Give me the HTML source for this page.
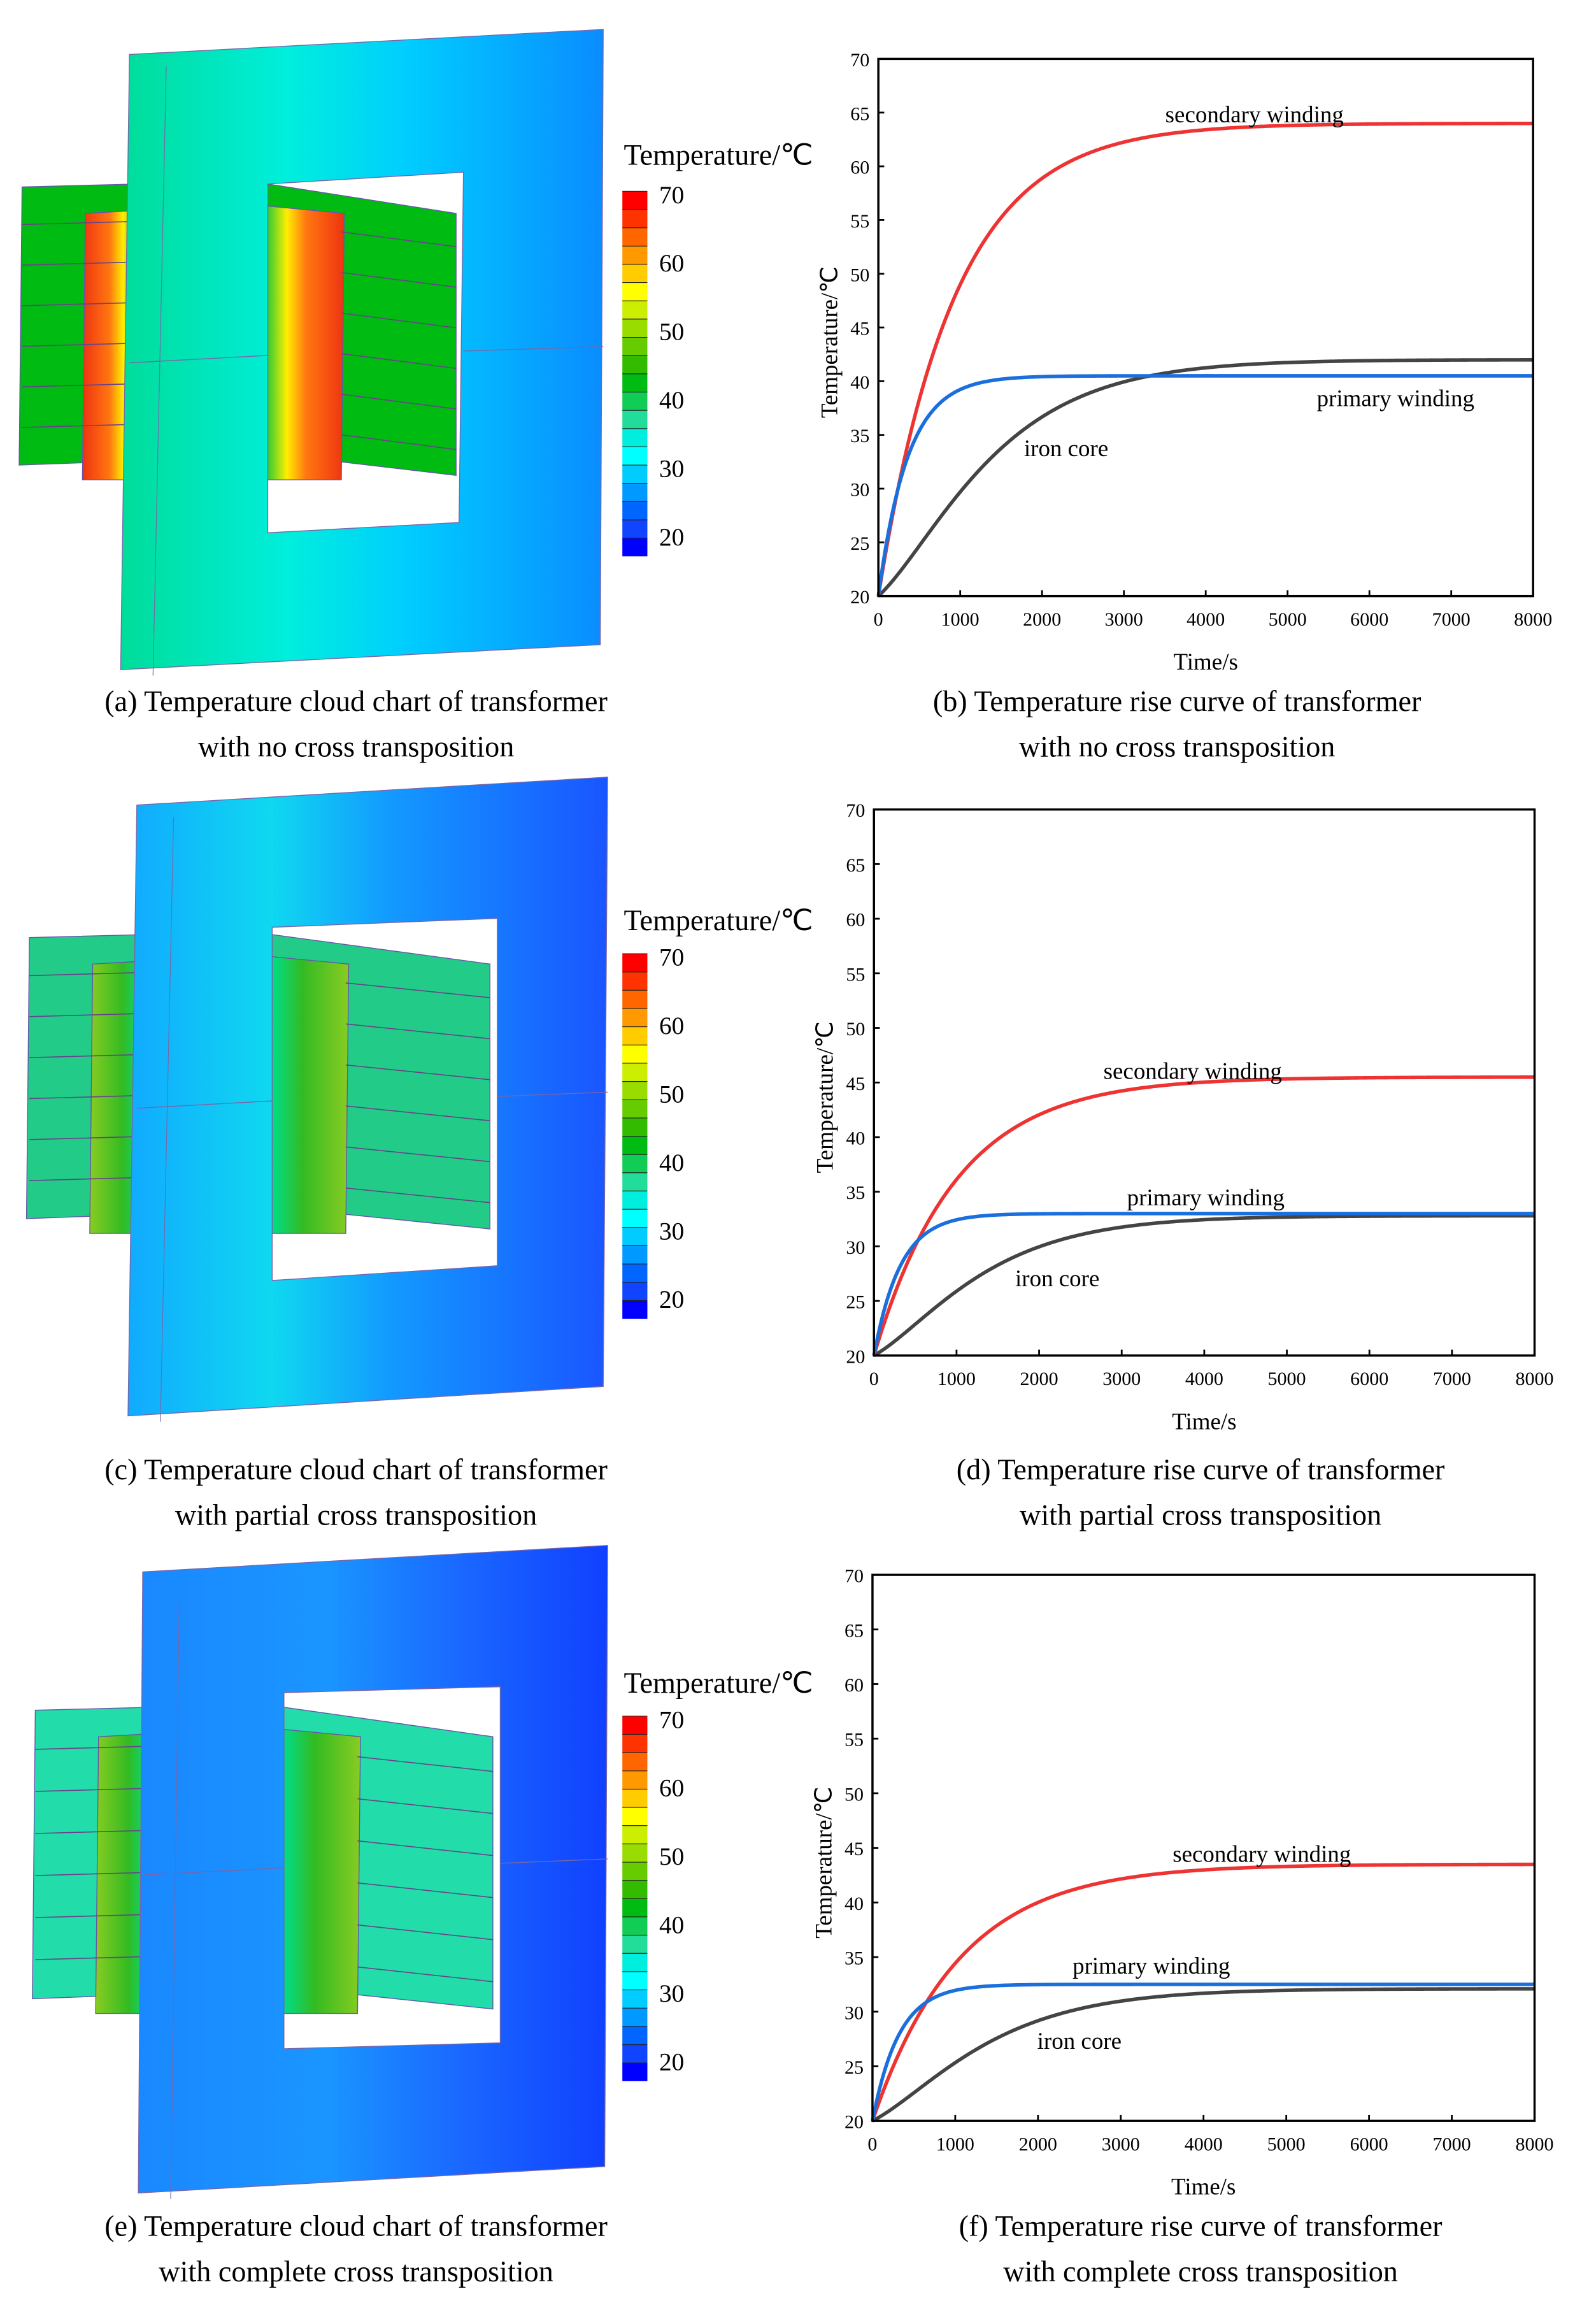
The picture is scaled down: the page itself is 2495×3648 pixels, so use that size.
<!DOCTYPE html>
<html><head><meta charset="utf-8"><style>
html,body{margin:0;padding:0;background:#fff}
svg{display:block}
text{font-family:"Liberation Serif",serif;fill:#000}
</style></head><body>
<svg id="s" width="2495" height="3648" viewBox="0 0 1080 1579" preserveAspectRatio="none" xmlns="http://www.w3.org/2000/svg">
<defs>
<linearGradient id="ga" x1="0" x2="1" y1="0" y2="0"><stop offset="0" stop-color="#00dd99"/><stop offset="0.35" stop-color="#00eedd"/><stop offset="0.6" stop-color="#00ccff"/><stop offset="1" stop-color="#0a8cff"/></linearGradient>
<linearGradient id="gc" x1="0" x2="1" y1="0" y2="0"><stop offset="0" stop-color="#11aaff"/><stop offset="0.3" stop-color="#0fd8f0"/><stop offset="0.55" stop-color="#1399ff"/><stop offset="1" stop-color="#1a55ff"/></linearGradient>
<linearGradient id="ge" x1="0" x2="1" y1="0" y2="0"><stop offset="0" stop-color="#1a88ff"/><stop offset="0.4" stop-color="#1a95ff"/><stop offset="0.7" stop-color="#1a66ff"/><stop offset="1" stop-color="#1040ff"/></linearGradient>
<linearGradient id="hot" x1="0" x2="1"><stop offset="0" stop-color="#ee3311"/><stop offset="0.5" stop-color="#ff7711"/><stop offset="0.75" stop-color="#ffee00"/><stop offset="1" stop-color="#33cc33"/></linearGradient>
<linearGradient id="hot2" x1="1" x2="0"><stop offset="0" stop-color="#ee3311"/><stop offset="0.5" stop-color="#ff7711"/><stop offset="0.75" stop-color="#ffee00"/><stop offset="1" stop-color="#33cc33"/></linearGradient>
<linearGradient id="mid" x1="0" x2="1"><stop offset="0" stop-color="#88cc22"/><stop offset="0.6" stop-color="#33bb22"/><stop offset="1" stop-color="#00dd88"/></linearGradient>
<linearGradient id="mid2" x1="1" x2="0"><stop offset="0" stop-color="#88cc22"/><stop offset="0.6" stop-color="#33bb22"/><stop offset="1" stop-color="#00dd88"/></linearGradient>
</defs>
<g id="g"></g>
</svg>
<script>
var g=document.getElementById('g'),h='';
function P(pts,f,st){return '<polygon points="'+pts+'" fill="'+f+'" stroke="'+(st||'#6655aa')+'" stroke-width="0.6"/>';}
function T(x,y,s,sz,anc,extra){return '<text x="'+x+'" y="'+y+'" font-size="'+sz+'"'+(anc?' text-anchor="'+anc+'"':'')+(extra||'')+'>'+s+'</text>';}
var panels=[
 {core:'url(#ga)',outer:[[88,37],[410,20],[408,438],[82,455]],win:[[182,125],[315,117],[312,355],[182,362]],coilY:[125,318],cL:'#00bb11',hotL:'url(#hot)',hotR:'url(#hot2)',cR:'#00bb11',cb:130,tl:112},
 {core:'url(#gc)',outer:[[93,547],[413,528],[410,942],[87,962]],win:[[185,630],[338,624],[338,860],[185,870]],coilY:[635,830],cL:'#22cc88',hotL:'url(#mid)',hotR:'url(#mid2)',cR:'#22cc88',cb:648,tl:632},
 {core:'url(#ge)',outer:[[97,1068],[413,1050],[411,1472],[94,1490]],win:[[193,1150],[340,1146],[340,1388],[193,1392]],coilY:[1160,1360],cL:'#22ddaa',hotL:'url(#mid)',hotR:'url(#mid2)',cR:'#22ddaa',cb:1166,tl:1150}
];
var cols=['#ff0000','#ff3300','#ff6600','#ff9900','#ffcc00','#ffff00','#ccee00','#99dd00','#66cc00','#33bb00','#00bb11','#11cc55','#22dd99','#00eedd','#00ffff','#00ccff','#0099ff','#0066ff','#1144ff','#0000ff'];
panels.forEach(function(p){
 var y0=p.coilY[0],y1=p.coilY[1];
 var o=p.outer,w=p.win;
 h+=P((o[0][0]-73)+','+(y0+2)+' '+(o[0][0]+5)+','+y0+' '+(o[0][0]+5)+','+(y1-5)+' '+(o[0][0]-75)+','+(y1-2),p.cL);
 h+=P((o[0][0]-30)+','+(y0+20)+' '+(o[0][0]+5)+','+(y0+18)+' '+(o[0][0]+5)+','+(y1+8)+' '+(o[0][0]-32)+','+(y1+8),p.hotL);
 h+=P(w[0][0]+','+(y0)+' '+(w[1][0]-5)+','+(y0+20)+' '+(w[1][0]-5)+','+(y1+5)+' '+w[0][0]+','+(y1-10),p.cR);
 h+=P(w[0][0]+','+(y0+15)+' '+(w[0][0]+52)+','+(y0+20)+' '+(w[0][0]+50)+','+(y1+8)+' '+w[0][0]+','+(y1+8),p.hotR);
 for(var k=1;k<7;k++){var yy=y0+(y1-y0)*k/7;h+='<line x1="'+(o[0][0]-73)+'" y1="'+yy+'" x2="'+(o[0][0])+'" y2="'+(yy-2)+'" stroke="#664488" stroke-width="0.7"/>';h+='<line x1="'+(w[0][0]+50)+'" y1="'+(yy+5)+'" x2="'+(w[1][0]-5)+'" y2="'+(yy+15)+'" stroke="#664488" stroke-width="0.7"/>';}
 h+='<path d="M'+o.map(function(q){return q.join(',')}).join(' L')+' Z M'+w.map(function(q){return q.join(',')}).join(' L')+' Z" fill="'+p.core+'" fill-rule="evenodd" stroke="#7766aa" stroke-width="0.6"/>';
 h+='<line x1="'+(o[0][0]+25)+'" y1="'+(o[0][1]+8)+'" x2="'+(o[3][0]+22)+'" y2="'+(o[3][1]+4)+'" stroke="#7766aa" stroke-width="0.5"/>';
 var my=(w[0][1]+w[3][1])/2;
 h+='<line x1="'+o[0][0]+'" y1="'+(my+3)+'" x2="'+w[0][0]+'" y2="'+(my-2)+'" stroke="#7766aa" stroke-width="0.6"/>';
 h+='<line x1="'+w[1][0]+'" y1="'+(my-5)+'" x2="'+o[1][0]+'" y2="'+(my-8)+'" stroke="#7766aa" stroke-width="0.6"/>';
 for(var i=0;i<20;i++){h+='<rect x="423" y="'+(p.cb+i*12.4)+'" width="17" height="12.4" fill="'+cols[i]+'"/>';h+='<line x1="423" x2="440" y1="'+(p.cb+i*12.4)+'" y2="'+(p.cb+i*12.4)+'" stroke="#222" stroke-width="0.5"/>';}
 for(var j=0;j<6;j++){h+=T(448,p.cb+8+j*46.5,(70-10*j)+'',17);}
 h+=T(424,p.tl,'Temperature/℃',20);
});
var caps=[[242,483,'(a) Temperature cloud chart of transformer'],[242,514,'with no cross transposition'],[800,483,'(b) Temperature rise curve of transformer'],[800,514,'with no cross transposition'],
[242,1005,'(c) Temperature cloud chart of transformer'],[242,1036,'with partial cross transposition'],[816,1005,'(d) Temperature rise curve of transformer'],[816,1036,'with partial cross transposition'],
[242,1519,'(e) Temperature cloud chart of transformer'],[242,1550,'with complete cross transposition'],[816,1519,'(f) Temperature rise curve of transformer'],[816,1550,'with complete cross transposition']];
caps.forEach(function(c){h+=T(c[0],c[1],c[2],20,'middle');});
var charts=[
 {x0:597,x1:1042,y0:40,y1:405,s:[64,930],p:[40.5,360],c:[42,1100],lab:[[792,83,'secondary winding'],[895,276,'primary winding'],[696,310,'iron core']]},
 {x0:594,x1:1043,y0:550,y1:921,s:[45.5,1000],p:[33,320],c:[32.8,1050],lab:[[750,733,'secondary winding'],[766,819,'primary winding'],[690,874,'iron core']]},
 {x0:593,x1:1043,y0:1070,y1:1441,s:[43.5,1050],p:[32.5,320],c:[32.1,1100],lab:[[797,1265,'secondary winding'],[729,1341,'primary winding'],[705,1392,'iron core']]}
];
charts.forEach(function(c){
 var X=function(t){return c.x0+(c.x1-c.x0)*t/8000},Y=function(v){return c.y1-(c.y1-c.y0)*(v-20)/50};
 function curve(f,col){var d='';for(var t=0;t<=8000;t+=20){d+=(t?' L':'M')+X(t).toFixed(2)+','+Y(f(t)).toFixed(2);}return '<path d="'+d+'" fill="none" stroke="'+col+'" stroke-width="2.4"/>';}
 h+=curve(function(t){var u=t/c.c[1];return 20+(c.c[0]-20)*(1-(1+u)*Math.exp(-u*1.35));},'#444');
 h+=curve(function(t){return 20+(c.s[0]-20)*(1-Math.exp(-t/c.s[1]));},'#ee3333');
 h+=curve(function(t){return 20+(c.p[0]-20)*(1-Math.exp(-t/c.p[1]));},'#1a6fdd');
 h+='<rect x="'+c.x0+'" y="'+c.y0+'" width="'+(c.x1-c.x0)+'" height="'+(c.y1-c.y0)+'" fill="none" stroke="#000" stroke-width="1.5"/>';
 for(var v=20;v<=70;v+=5){h+='<line x1="'+c.x0+'" x2="'+(c.x0+4)+'" y1="'+Y(v)+'" y2="'+Y(v)+'" stroke="#000" stroke-width="1.2"/>';h+=T(c.x0-6,Y(v)+5,v,13,'end');}
 for(var t=0;t<=8000;t+=1000){h+='<line x1="'+X(t)+'" x2="'+X(t)+'" y1="'+c.y1+'" y2="'+(c.y1-4)+'" stroke="#000" stroke-width="1.2"/>';h+=T(X(t),c.y1+20,t,13,'middle');}
 h+=T((c.x0+c.x1)/2,c.y1+50,'Time/s',16,'middle');
 var ly=(c.y0+c.y1)/2+10;h+=T(c.x0-28,ly,'Temperature/℃',16,'middle',' transform="rotate(-90 '+(c.x0-28)+' '+ly+')"');
 c.lab.forEach(function(l){h+=T(l[0],l[1],l[2],16);});
});
g.innerHTML=h;
</script>
</body></html>
